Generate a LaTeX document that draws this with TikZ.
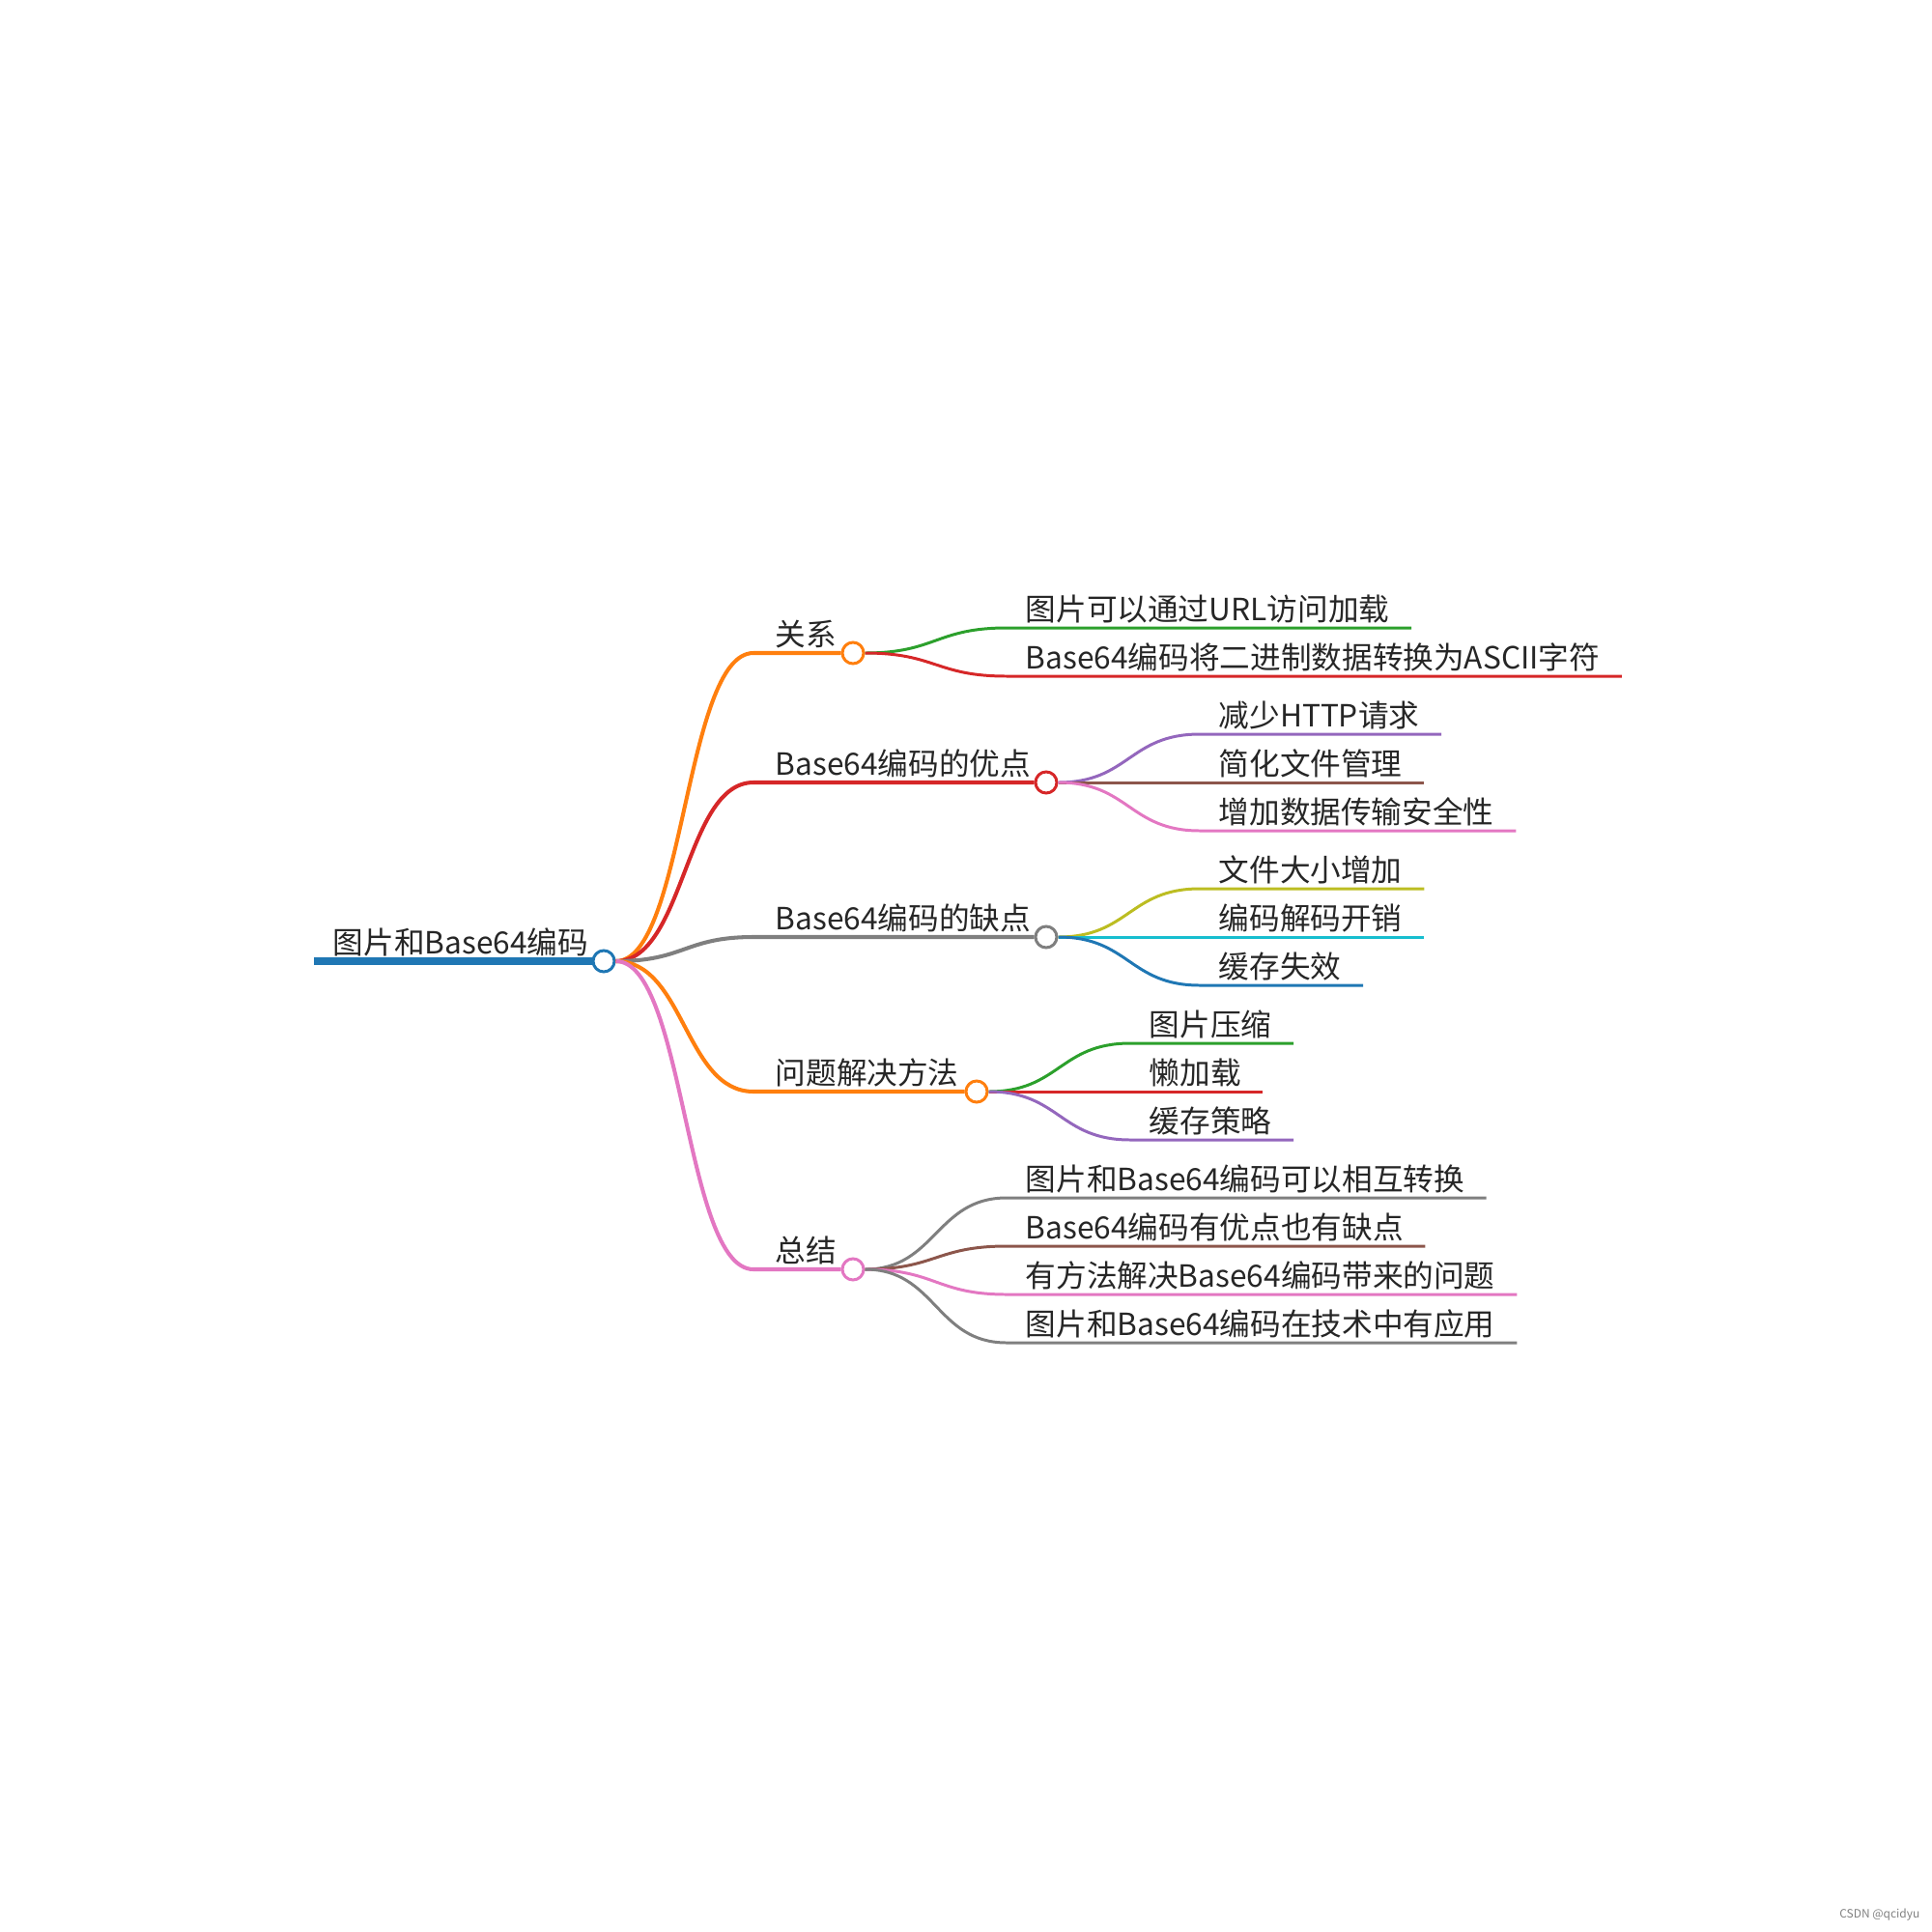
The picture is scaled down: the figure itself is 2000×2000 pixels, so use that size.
\documentclass[tikz,border=0pt]{standalone}
\usepackage{fontspec}
\setmainfont{Noto Sans CJK SC}
\usepackage{xcolor}
\usepackage{tikz}
\usetikzlibrary{positioning,calc}

\definecolor{mblue}{HTML}{1F77B4}
\definecolor{morange}{HTML}{FF7F0E}
\definecolor{mgreen}{HTML}{2CA02C}
\definecolor{mred}{HTML}{D62728}
\definecolor{mpurple}{HTML}{9467BD}
\definecolor{mbrown}{HTML}{8C564B}
\definecolor{mpink}{HTML}{E377C2}
\definecolor{mgray}{HTML}{7F7F7F}
\definecolor{molive}{HTML}{BCBD22}
\definecolor{mcyan}{HTML}{17BECF}

\tikzset{
    sbend/.style={to path={let \p1=(\tikztostart), \p2=(\tikztotarget) in
        .. controls ({0.5*\x1+0.5*\x2},\y1) and ({0.5*\x1+0.5*\x2},\y2) .. (\tikztotarget)}}
}

\begin{document}
\begin{tikzpicture}[x=0.01cm, y=-0.01cm,
    mmtext/.style={anchor=base west, inner sep=0pt, font=\fontsize{9pt}{11pt}\selectfont, text=black!85},
    knob/.style={circle, draw=#1, fill=white, line width=0.85pt, minimum size=0.22cm, inner sep=0pt},
    trunk/.style={line width=2.3pt},
    limb/.style={line width=1.15pt},
    twig/.style={line width=0.85pt}]
    \useasboundingbox (0,0) rectangle (2000,2000);

    % Root
    \coordinate (rs) at (325,995);
    \node[knob=mblue] (r) at (625,995) {};
    \node[mmtext] (rt) at (344,987) {图片和Base64编码};
    \draw[trunk, mblue] (rs) -- (r.west);

    % Main branches
    \foreach \nm/\txt/\col/\y/\kx in {k1/关系/morange/676/883,
        k2/Base64编码的优点/mred/810/1083,
        k3/Base64编码的缺点/mgray/970/1083,
        k4/问题解决方法/morange/1130/1011,
        k5/总结/mpink/1314/883} {
        \coordinate (\nm-s) at (780,\y);
        \node[knob=\col] (\nm) at (\kx,\y) {};
        \node[mmtext] (\nm-t) at (802,\y-8) {\txt};
        \draw[limb, \col] (r.east) to[sbend] (\nm-s) -- (\nm.west);
    }

    % Leaves
    \foreach \up/\nm/\txt/\col/\y/\sx in {k1/a1/图片可以通过URL访问加载/mgreen/650/1042,
        k1/a2/Base64编码将二进制数据转换为ASCII字符/mred/700/1042,
        k2/b1/减少HTTP请求/mpurple/760/1242,
        k2/b2/简化文件管理/mbrown/810/1242,
        k2/b3/增加数据传输安全性/mpink/860/1242,
        k3/c1/文件大小增加/molive/920/1242,
        k3/c2/编码解码开销/mcyan/970/1242,
        k3/c3/缓存失效/mblue/1020/1242,
        k4/d1/图片压缩/mgreen/1080/1170,
        k4/d2/懒加载/mred/1130/1170,
        k4/d3/缓存策略/mpurple/1180/1170,
        k5/e1/图片和Base64编码可以相互转换/mgray/1240/1042,
        k5/e2/Base64编码有优点也有缺点/mbrown/1290/1042,
        k5/e3/有方法解决Base64编码带来的问题/mpink/1340/1042,
        k5/e4/图片和Base64编码在技术中有应用/mgray/1390/1042} {
        \coordinate (\nm-s) at (\sx,\y);
        \node[mmtext] (\nm) at (\sx+19,\y-8) {\txt};
        \draw[twig, \col] (\up.east) to[sbend] (\nm-s) -- ($(\nm.east |- \nm-s)+(22,0)$);
    }

    % Watermark
    \node[anchor=base east, inner sep=0pt, font=\fontsize{3.4pt}{4pt}\selectfont, text=black!50] (wm) at (1988,1985) {CSDN @qcidyu};
\end{tikzpicture}
\end{document}
